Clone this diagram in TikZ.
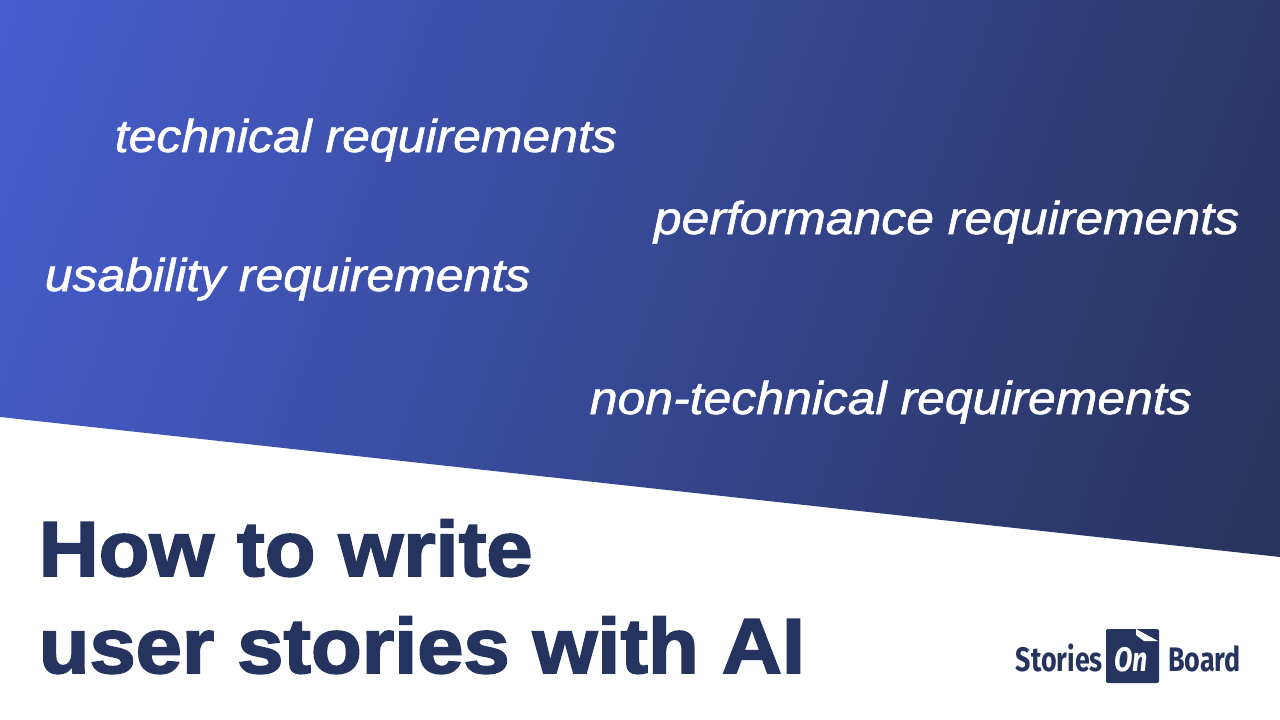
\documentclass[tikz,border=0pt]{standalone}
\usepackage{fontspec}
\setmainfont{Liberation Sans}
\newfontfamily\reqfont[FakeBold=1.2]{Liberation Sans}
\newfontfamily\headfont[FakeBold=2.2]{Liberation Sans Bold}
\newfontfamily\logofont{Fira Sans}
\usetikzlibrary{positioning}
\definecolor{band left}{HTML}{4A63DC}
\definecolor{band right}{HTML}{28335C}
\definecolor{title ink}{HTML}{25335F}
\pgfdeclareverticalshading{bandshade}{100bp}{color(0bp)=(band left); color(24bp)=(band left); color(70bp)=(band right); color(100bp)=(band right)}
\tikzset{
  req/.style={anchor=base west,text=white,font=\reqfont\fontsize{46pt}{46pt}\selectfont\itshape,xscale=1.085},
  headline/.style={anchor=base west,text=title ink,font=\headfont\fontsize{78pt}{78pt}\selectfont,xscale=1.065},
  logotext/.style={text=title ink,font=\logofont\fontsize{34pt}{34pt}\selectfont\bfseries,inner sep=0pt,xscale=.79},
}
\begin{document}
\begin{tikzpicture}[x=1pt,y=-1pt]
\useasboundingbox (0,0) rectangle (1280,720);
\fill[white] (0,0) rectangle (1280,720);
\begin{scope}
  \clip (0,0) -- (1280,0) -- (1280,557) -- (0,417) -- cycle;
  \shade[shading=bandshade,shading angle=-110] (-200,-500) rectangle (1480,1100);
\end{scope}
\node[req] (technical) at (111,152) {technical requirements};
\node[req] (performance) at (650,234) {performance requirements};
\node[req] (usability) at (41,291) {usability requirements};
\node[req] (nontechnical) at (586,414) {non-technical requirements};
\node[headline] (line one) at (35,576) {How to write};
\node[headline] (line two) at (35,673) {user stories with AI};
\node[logotext,anchor=base east] (stories) at (1103,671) {Stories};
\fill[title ink,rounded corners=2pt] (1106,629) -- (1159,629) -- (1159,683) -- (1106,683) -- cycle;
\fill[white] (1136,629) -- (1158,641) -- (1144,641) -- (1136,635) -- cycle;
\node[logotext,text=white,anchor=base,font=\logofont\fontsize{34pt}{34pt}\selectfont\bfseries\itshape] (on) at (1131,671) {On};
\node[logotext,anchor=base west] (board) at (1168,671) {Board};
\end{tikzpicture}
\end{document}
